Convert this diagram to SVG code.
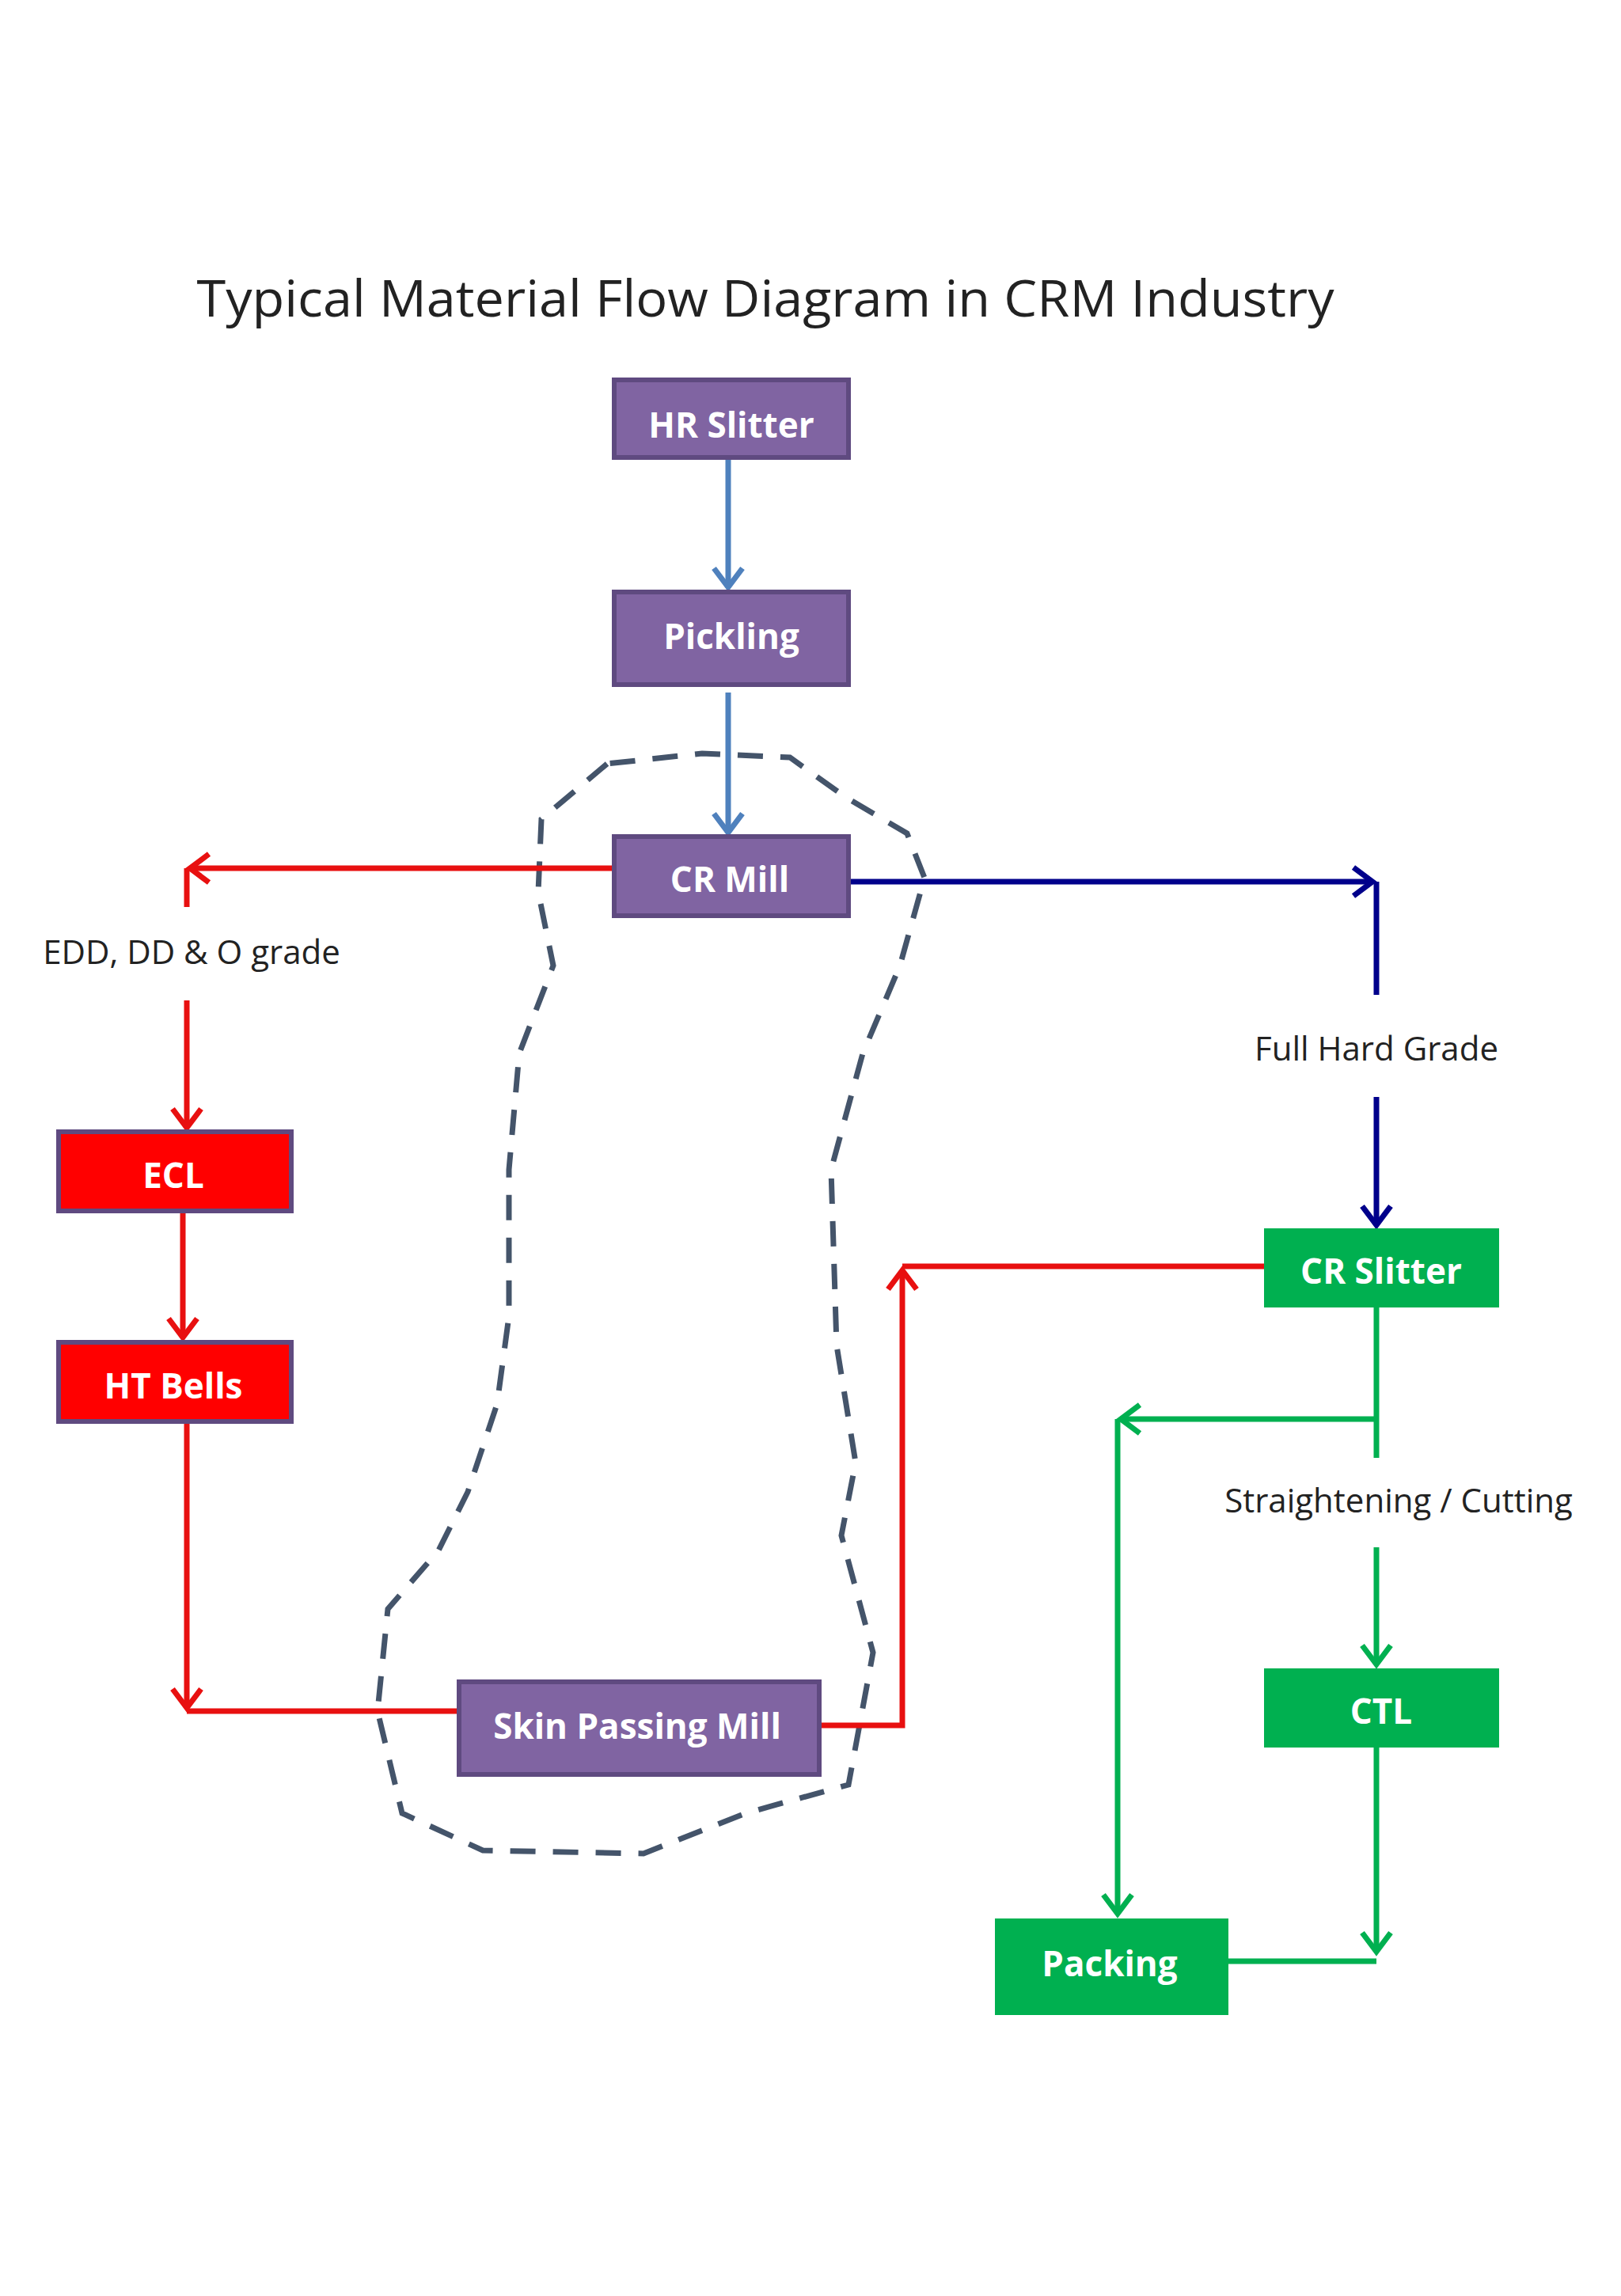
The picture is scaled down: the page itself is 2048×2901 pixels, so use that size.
<svg xmlns="http://www.w3.org/2000/svg" width="2048" height="2901" viewBox="0 0 2048 2901">
<style>
.lbl{font-family:"Open Sans","Liberation Sans",sans-serif;font-size:44px;fill:#fff;font-weight:bold;text-anchor:middle;dominant-baseline:central}
.txt{font-family:"Open Sans","Liberation Sans",sans-serif;font-size:42px;fill:#222;text-anchor:middle;dominant-baseline:central}
.p{fill:#8064A2;stroke:#5F4A80;stroke-width:6}
.r{fill:#FF0000;stroke:#5F4A80;stroke-width:6}
.g{fill:#00B050}
.c{fill:none;stroke-width:7}
</style>
<defs>
<marker id="ab" markerUnits="userSpaceOnUse" markerWidth="60" markerHeight="60" refX="30" refY="30" orient="auto"><path d="M6,12 L30,30 L6,48" fill="none" stroke="#4F81BD" stroke-width="7"/></marker>
<marker id="ar" markerUnits="userSpaceOnUse" markerWidth="60" markerHeight="60" refX="30" refY="30" orient="auto"><path d="M6,12 L30,30 L6,48" fill="none" stroke="#E81010" stroke-width="7"/></marker>
<marker id="an" markerUnits="userSpaceOnUse" markerWidth="60" markerHeight="60" refX="30" refY="30" orient="auto"><path d="M6,12 L30,30 L6,48" fill="none" stroke="#00008B" stroke-width="7"/></marker>
<marker id="ag" markerUnits="userSpaceOnUse" markerWidth="60" markerHeight="60" refX="30" refY="30" orient="auto"><path d="M6,12 L30,30 L6,48" fill="none" stroke="#00B050" stroke-width="7"/></marker>
</defs>
<rect width="2048" height="2901" fill="#fff"/>
<text x="967" y="375" font-family="'Open Sans','Liberation Sans',sans-serif" font-size="64" fill="#222" text-anchor="middle" dominant-baseline="central" textLength="1437" lengthAdjust="spacingAndGlyphs">Typical Material Flow Diagram in CRM Industry</text>
<path d="M767,965 L684,1035 L680,1127 L699,1220 L656,1331 L643,1478 L643,1663 L628,1774 L591,1885 L554,1959 L490,2033 L477,2162 L508,2291 L610,2338 L813,2342 L942,2291 L1072,2255 L1103,2088 L1063,1940 L1081,1848 L1057,1700 L1050,1478 L1090,1331 L1137,1220 L1168,1109 L1146,1053 L1068,1007 L998,957 L887,952 Z" fill="none" stroke="#44546A" stroke-width="7" stroke-dasharray="32,22"/>
<g id="connectors">
<path class="c" stroke="#4F81BD" d="M920,580 V742" marker-end="url(#ab)"/>
<path class="c" stroke="#4F81BD" d="M920,875 V1052" marker-end="url(#ab)"/>
<path class="c" stroke="#E81010" d="M776,1097 H240" marker-end="url(#ar)"/>
<path class="c" stroke="#E81010" d="M236,1097 V1146"/>
<path class="c" stroke="#E81010" d="M236,1264 V1425" marker-end="url(#ar)"/>
<path class="c" stroke="#E81010" d="M231,1530 V1690" marker-end="url(#ar)"/>
<path class="c" stroke="#E81010" d="M236,1796 V2158" marker-end="url(#ar)"/>
<path class="c" stroke="#E81010" d="M236,2162 H580"/>
<path class="c" stroke="#E81010" d="M1035,2180 H1140 V1605" marker-end="url(#ar)"/>
<path class="c" stroke="#E81010" d="M1140,1600 H1597"/>
<path class="c" stroke="#00008B" d="M1072,1114 H1734" marker-end="url(#an)"/>
<path class="c" stroke="#00008B" d="M1739,1114 V1257"/>
<path class="c" stroke="#00008B" d="M1739,1386 V1548" marker-end="url(#an)"/>
<path class="c" stroke="#00B050" d="M1739,1652 V1842"/>
<path class="c" stroke="#00B050" d="M1739,1793 H1416" marker-end="url(#ag)"/>
<path class="c" stroke="#00B050" d="M1412,1793 V2418" marker-end="url(#ag)"/>
<path class="c" stroke="#00B050" d="M1739,1955 V2103" marker-end="url(#ag)"/>
<path class="c" stroke="#00B050" d="M1739,2208 V2466" marker-end="url(#ag)"/>
<path class="c" stroke="#00B050" d="M1552,2478 H1739"/>
</g>
<text class="txt" x="242" y="1201">EDD, DD &amp; O grade</text>
<text class="txt" x="1739" y="1323">Full Hard Grade</text>
<text class="txt" x="1767" y="1894">Straightening / Cutting</text>
<g id="hr"><rect class="p" x="776" y="480" width="296" height="98"/><text class="lbl" x="924" y="536">HR Slitter</text></g>
<g id="pickling"><rect class="p" x="776" y="748" width="296" height="117"/><text class="lbl" x="924" y="803">Pickling</text></g>
<g id="crmill"><rect class="p" x="776" y="1057" width="296" height="100"/><text class="lbl" x="922" y="1110">CR Mill</text></g>
<g id="ecl"><rect class="r" x="74" y="1430" width="294" height="100"/><text class="lbl" x="219" y="1484">ECL</text></g>
<g id="htbells"><rect class="r" x="74" y="1696" width="294" height="100"/><text class="lbl" x="219" y="1750">HT Bells</text></g>
<g id="spm"><rect class="p" x="580" y="2125" width="455" height="117"/><text class="lbl" x="805" y="2180">Skin Passing Mill</text></g>
<g id="crslitter"><rect class="g" x="1597" y="1552" width="297" height="100"/><text class="lbl" x="1745" y="1605">CR Slitter</text></g>
<g id="ctl"><rect class="g" x="1597" y="2108" width="297" height="100"/><text class="lbl" x="1745" y="2161">CTL</text></g>
<g id="packing"><rect class="g" x="1257" y="2424" width="295" height="122"/><text class="lbl" x="1402" y="2480">Packing</text></g>
</svg>
